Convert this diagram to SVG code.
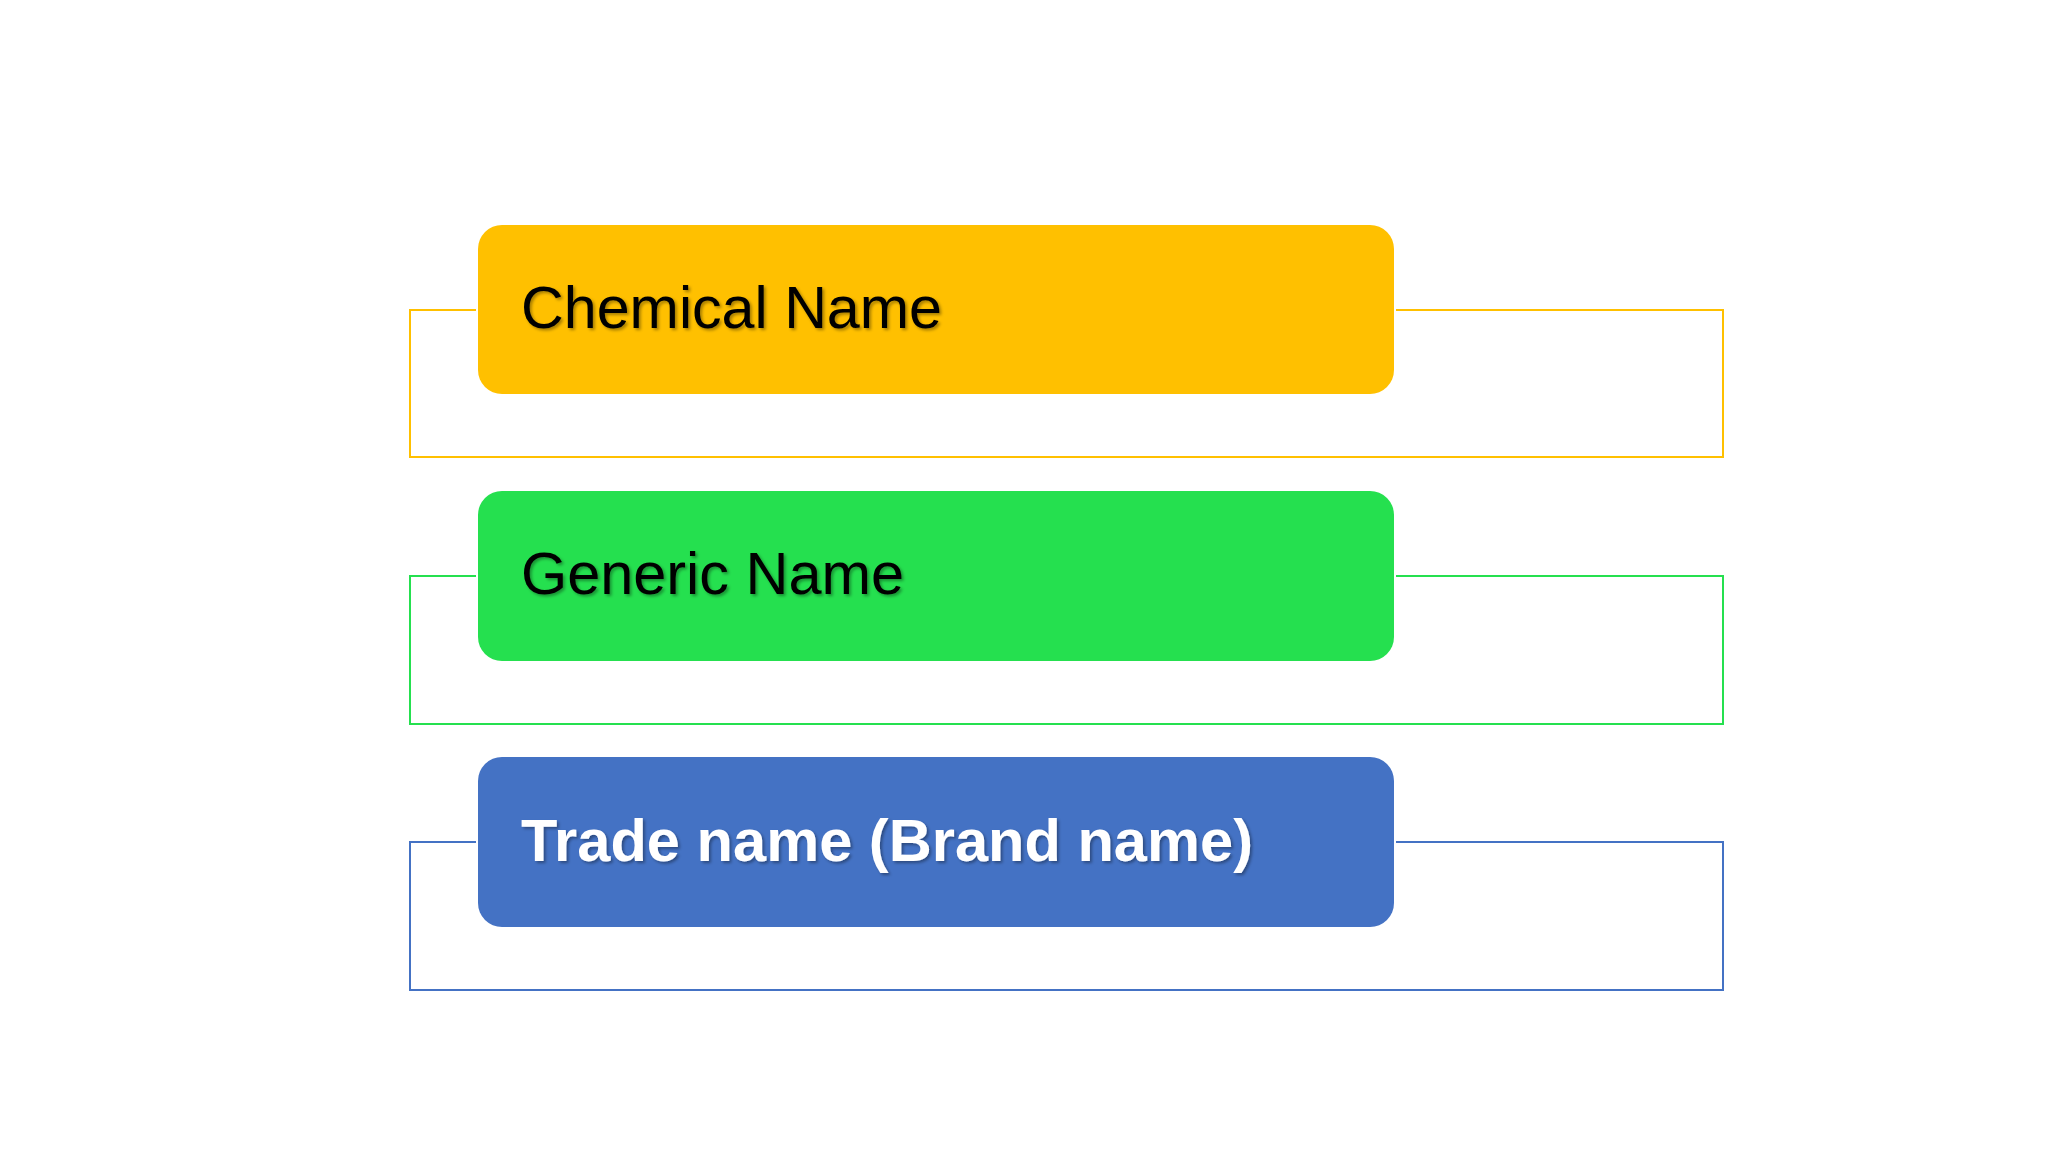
<svg xmlns="http://www.w3.org/2000/svg" width="2048" height="1152" viewBox="0 0 2048 1152">
  <style>
    .frame { fill: none; stroke-width: 2; }
    .lbl { font-family: "Liberation Sans", Arial, sans-serif; font-size: 60px; }
    .dark { fill: #000000; }
    .light { fill: #ffffff; font-weight: bold; }
  </style>
  <defs>
    <filter id="shadow" x="-5%" y="-20%" width="110%" height="140%">
      <feDropShadow dx="2" dy="2" stdDeviation="1.5" flood-color="#000" flood-opacity="0.35"/>
    </filter>
  </defs>
  <rect x="0" y="0" width="2048" height="1152" fill="#ffffff"/>

  <g id="connectors">
    <path class="frame" stroke="#FFC000" d="M476 310 H410 V457 H1723 V310 H1396"/>
    <path class="frame" stroke="#25E04F" d="M476 576 H410 V724 H1723 V576 H1396"/>
    <path class="frame" stroke="#4472C4" d="M476 842 H410 V990 H1723 V842 H1396"/>
  </g>

  <g id="node-chemical">
    <rect x="478" y="225" width="916" height="169" rx="24" fill="#FFC000"/>
    <text class="lbl dark" x="521" y="328" textLength="421" lengthAdjust="spacingAndGlyphs" filter="url(#shadow)">Chemical Name</text>
  </g>

  <g id="node-generic">
    <rect x="478" y="491" width="916" height="170" rx="24" fill="#25E04F"/>
    <text class="lbl dark" x="521" y="594" textLength="383" lengthAdjust="spacingAndGlyphs" filter="url(#shadow)">Generic Name</text>
  </g>

  <g id="node-trade">
    <rect x="478" y="757" width="916" height="170" rx="24" fill="#4472C4"/>
    <text class="lbl light" x="521" y="861" textLength="732" lengthAdjust="spacingAndGlyphs" filter="url(#shadow)">Trade name (Brand name)</text>
  </g>
</svg>
